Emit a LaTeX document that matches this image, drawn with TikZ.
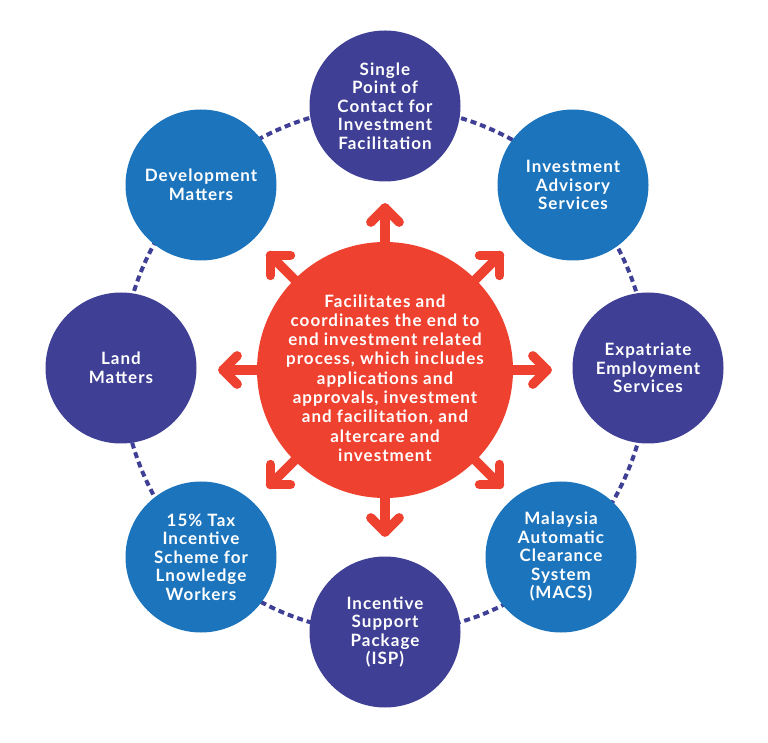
\documentclass[tikz,border=0pt]{standalone}
\usepackage{fontspec}
\setmainfont{Lato}[LetterSpace=6]
\usetikzlibrary{calc}
\definecolor{cpurple}{RGB}{62,63,149}
\definecolor{cblue}{RGB}{28,117,188}
\definecolor{cred}{RGB}{239,65,48}
\begin{document}
\begin{tikzpicture}[x=1pt,y=1pt,
  outer/.style={circle,minimum size=151pt,inner sep=0pt,text=white,font=\fontsize{17}{18.5}\selectfont\bfseries,align=center},
  pnode/.style={outer,fill=cpurple},
  bnode/.style={outer,fill=cblue},
  ring/.style={draw=cpurple,line width=4pt,dash pattern=on 6pt off 4pt},
  arr/.style={draw=cred,line width=9.5pt,line cap=round,line join=round}]
\useasboundingbox (0,0) rectangle (768,742);
\coordinate (o) at (385,372);
\draw[ring] (o) circle (263pt);
\node[pnode] (n1) at (385,636) {Single\\Point of\\Contact for\\Investment\\Facilitation};
\node[bnode] (n2) at (573,557) {Investment\\Advisory\\Services};
\node[pnode] (n3) at (648,374) {Expatriate\\Employment\\Services};
\node[bnode] (n4) at (561,185) {Malaysia\\Automatic\\Clearance\\System\\(MACS)};
\node[pnode] (n5) at (385,110) {Incentive\\Support\\Package\\(ISP)};
\node[bnode] (n6) at (201,185) {15\% Tax\\Incentive\\Scheme for\\Lnowledge\\Workers};
\node[pnode] (n7) at (121,374) {Land\\Matters};
\node[bnode] (n8) at (201,557) {Development\\Matters};
\node[circle,fill=cred,minimum size=256pt,inner sep=0pt] (c) at (o) {};
\foreach \a in {0,45,...,315}{
  \coordinate (tip\a) at ($(o)+(\a:162pt)$);
  \draw[arr] (c) -- (tip\a);
  \draw[arr] ($(tip\a)+(\a+135:20pt)$) -- (tip\a) -- ($(tip\a)+(\a-135:20pt)$);
}
\node[text=white,font=\fontsize{17}{19.3}\selectfont\bfseries,align=center] (ctext) at (385,364)
 {Facilitates and\\coordinates the end to\\end investment related\\process, which includes\\applications and\\approvals, investment\\and facilitation, and\\altercare and\\investment};
\end{tikzpicture}
\end{document}
